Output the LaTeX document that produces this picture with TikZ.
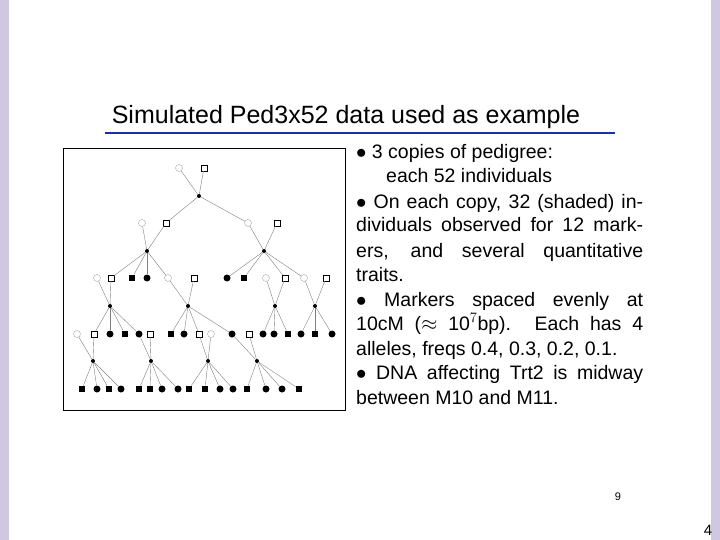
\documentclass[tikz,border=0pt]{standalone}
\usepackage{fontspec}
\setmainfont{Liberation Sans}
\definecolor{barlav}{HTML}{CFC8E0}
\definecolor{rulblue}{HTML}{1A2FA8}
\tikzset{
  fo/.style={circle,draw=gray!70,fill=white,inner sep=0pt,minimum size=7pt},
  ff/.style={circle,fill=black,inner sep=0pt,minimum size=7pt},
  mo/.style={rectangle,draw=black,fill=white,inner sep=0pt,minimum size=6pt},
  mf/.style={rectangle,fill=black,inner sep=0pt,minimum size=6.5pt},
  mar/.style={circle,fill=black,inner sep=0pt,minimum size=4pt},
  lnk/.style={gray,line width=0.4pt},
  txt/.style={anchor=base west,inner sep=0pt,font=\fontsize{19.5}{22}\selectfont}
}
\newcommand{\jline}[1]{\makebox[287pt][s]{#1}}
\begin{document}
\begin{tikzpicture}[x=1pt,y=-1pt]
  \useasboundingbox (0,0) rectangle (720,540);
  % side bars
  \fill[barlav] (0,0) rectangle (9,540);
  \fill[barlav] (711,0) rectangle (720,540);

  % title
  \node[font=\fontsize{25}{28}\selectfont,anchor=base] (title) at (346,124) {Simulated Ped3x52 data used as example};
  \draw[rulblue,line width=2pt] (105,133) -- (615,133);

  % frame
  \draw[black,line width=0.8pt] (63,148) rectangle (345,410);

  % generation 0
  \node[fo] (c0) at (179,168) {};
  \node[mo] (s0) at (204,168) {};
  \node[mar] (m0) at (199,196) {};
  % generation 1
  \foreach \n/\x/\s in {a1/142/fo,a2/166/mo,a3/248/fo,a4/277/mo}
    \node[\s] (\n) at (\x,223) {};
  \node[mar] (m1a) at (147,251) {};
  \node[mar] (m1b) at (264,251) {};
  % generation 2
  \foreach \n/\x/\s in {b1/97/fo,b2/111/mo,b3/132/mf,b4/147/ff,b5/168/fo,b6/194/mo,
      b7/227/ff,b8/244/mf,b9/266/fo,b10/285/mo,b11/304/fo,b12/326/mo}
    \node[\s] (\n) at (\x,278) {};
  \foreach \n/\x in {m2a/110,m2b/188,m2c/275,m2d/315}
    \node[mar] (\n) at (\x,306) {};
  % generation 3
  \foreach \n/\x/\s in {d1/77/fo,d2/94/mo,d3/110/ff,d4/125/mf,d5/139/ff,d6/150/mo,
      d7/171/mf,d8/184/ff,d9/199/mo,d10/211/fo,d11/232/ff,d12/249/mo,
      d13/263/ff,d14/274/ff,d15/288/mf,d16/301/ff,d17/315/mf,d18/332/ff}
    \node[\s] (\n) at (\x,334) {};
  \foreach \n/\x in {m3a/93,m3b/151,m3c/208,m3d/257}
    \node[mar] (\n) at (\x,361) {};
  % generation 4
  \foreach \n/\x/\s in {e1/82/mf,e2/97/ff,e3/109/mf,e4/121/ff,e5/139/mf,e6/150/mf,
      e7/162/ff,e8/178/ff,e9/189/mf,e10/205/mf,e11/220/ff,e12/233/ff,
      e13/247/mf,e14/266/ff,e15/282/ff,e16/299/mf}
    \node[\s] (\n) at (\x,389) {};

  % links
  \foreach \p/\m in {c0/m0,s0/m0,m0/a2,m0/a3,
      a1/m1a,a2/m1a,a3/m1b,a4/m1b,
      m1a/b2,m1a/b3,m1a/b4,m1a/b5,m1b/b7,m1b/b8,m1b/b10,m1b/b11,
      b1/m2a,b2/m2a,b5/m2b,b6/m2b,b9/m2c,b10/m2c,b11/m2d,b12/m2d,
      m2a/d2,m2a/d3,m2a/d4,m2a/d5,m2b/d7,m2b/d8,m2b/d9,m2b/d11,
      m2c/d13,m2c/d14,m2c/d15,m2d/d16,m2d/d17,m2d/d18,
      d1/m3a,d2/m3a,d5/m3b,d6/m3b,d9/m3c,d10/m3c,d11/m3d,d12/m3d,
      m3a/e1,m3a/e2,m3a/e3,m3a/e4,m3b/e5,m3b/e6,m3b/e7,m3b/e8,
      m3c/e9,m3c/e10,m3c/e11,m3c/e12,m3d/e13,m3d/e14,m3d/e15,m3d/e16}
    \draw[lnk] (\p) -- (\m);

  % text
  \node[txt] (t1) at (356,159) {$\bullet$ 3 copies of pedigree:};
  \node[txt] (t2) at (386,183) {each 52 individuals};
  \node[txt] (t3) at (356,208) {\jline{$\bullet$ On each copy, 32 (shaded) in-}};
  \node[txt] (t4) at (356,232) {\jline{dividuals observed for 12 mark-}};
  \node[txt] (t5) at (356,257) {\jline{ers, and several quantitative}};
  \node[txt] (t6) at (356,281) {traits.};
  \node[txt] (t7) at (356,306) {\jline{$\bullet$ Markers spaced evenly at}};
  \node[txt] (t8) at (356,330) {\jline{10cM ($\approx$ 10$^7$bp). Each has 4}};
  \node[txt] (t9) at (356,355) {alleles, freqs 0.4, 0.3, 0.2, 0.1.};
  \node[txt] (t10) at (356,379) {\jline{$\bullet$ DNA affecting Trt2 is midway}};
  \node[txt] (t11) at (356,404) {between M10 and M11.};

  % page numbers
  \node[font=\fontsize{11}{12}\selectfont,anchor=base] (pg) at (618,500) {9};
  \node[font=\fontsize{15}{16}\selectfont,anchor=base] (sl) at (708,535) {4};
\end{tikzpicture}
\end{document}
